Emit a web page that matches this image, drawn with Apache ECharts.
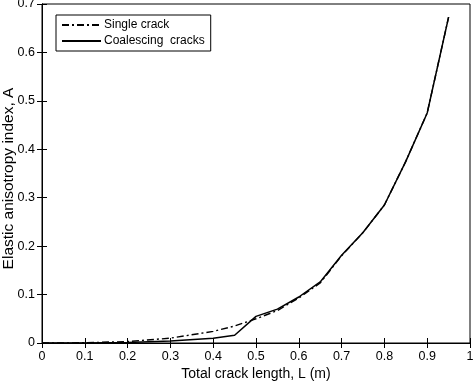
<!DOCTYPE html>
<html><head><meta charset="utf-8">
<script src="https://cdn.jsdelivr.net/npm/echarts@6/dist/echarts.min.js"></script>
<style>html,body{margin:0;padding:0;background:#fff}#c{width:474px;height:384px}</style>
</head><body><div id="c"></div>
<script>
var xSingle = [0, 0.1, 0.2, 0.3, 0.4, 0.45, 0.5, 0.55, 0.6, 0.65, 0.7, 0.75, 0.8, 0.85, 0.9, 0.95];
var ySingle = [0, 0.0005, 0.003, 0.01, 0.024, 0.035, 0.05, 0.067, 0.093, 0.124, 0.18, 0.228, 0.285, 0.375, 0.475, 0.673];
var xCoal = [0, 0.1, 0.2, 0.3, 0.4, 0.45, 0.5, 0.55, 0.6, 0.65, 0.7, 0.75, 0.8, 0.85, 0.9, 0.95];
var yCoal = [0, 0.0002, 0.001, 0.004, 0.01, 0.016, 0.055, 0.07, 0.095, 0.126, 0.181, 0.228, 0.285, 0.375, 0.475, 0.673];
var xTicks = ['0','0.1','0.2','0.3','0.4','0.5','0.6','0.7','0.8','0.9','1'];
var yTicks = ['0','0.1','0.2','0.3','0.4','0.5','0.6','0.7'];
var seriesNames = ['Single crack', 'Coalescing  cracks'];

function pairs(xs, ys){ return xs.map(function(x,i){ return [x, ys[i]]; }); }
var font = 'Liberation Sans, Arial, Helvetica, sans-serif';
var chart = echarts.init(document.getElementById('c'));
var lineAx = {show:true, lineStyle:{color:'#000', width:1}};
var tickIn = {show:true, inside:true, length:5, lineStyle:{color:'#000', width:1}};
chart.setOption({
  animation:false,
  backgroundColor:'#fff',
  grid:{left:42, right:4, top:4, bottom:41, show:true, borderColor:'#000', borderWidth:1,
        containLabel:false, outerBoundsMode:'none'},
  legend:{
    orient:'vertical', left:56, top:15, padding:[4,6,4,5], itemGap:4,
    itemWidth:39, itemHeight:12,
    borderColor:'#000', borderWidth:1, backgroundColor:'#fff',
    itemStyle:{opacity:0},
    textStyle:{fontFamily:font, fontSize:12, color:'#000', padding:[0,0,0,-2]},
    data:seriesNames
  },
  xAxis:[{
    type:'value', min:0, max:1, interval:0.1,
    axisLine:lineAx, axisTick:tickIn, splitLine:{show:false},
    axisLabel:{margin:7, fontFamily:font, fontSize:12.5, color:'#000',
      formatter:function(v){ return xTicks[Math.round(v*10)]; }},
    name:'Total crack length, L (m)', nameLocation:'middle', nameGap:24, nameMoveOverlap:false,
    nameTextStyle:{fontFamily:font, fontSize:14, color:'#000'}
  },{
    type:'value', min:0, max:1, interval:0.1, position:'top',
    axisLine:lineAx, axisTick:tickIn, axisLabel:{show:false}, splitLine:{show:false}
  }],
  yAxis:[{
    type:'value', min:0, max:0.7, interval:0.1,
    axisLine:lineAx, axisTick:tickIn, splitLine:{show:false},
    axisLabel:{margin:7, fontFamily:font, fontSize:12.5, color:'#000',
      formatter:function(v){ return yTicks[Math.round(v*10)]; }},
    name:'Elastic anisotropy index, A', nameLocation:'middle', nameGap:25, nameMoveOverlap:false,
    nameTextStyle:{fontFamily:font, fontSize:15.5, color:'#000', padding:[0,10,0,0]}
  },{
    type:'value', min:0, max:0.7, interval:0.1, position:'right',
    axisLine:lineAx, axisTick:tickIn, axisLabel:{show:false}, splitLine:{show:false}
  }],
  series:[{
    name:seriesNames[0], type:'line', showSymbol:false, symbol:'none',
    data:pairs(xSingle, ySingle),
    lineStyle:{color:'#000', width:1.4, type:[7,3,2,3]}, itemStyle:{color:'#000'}, z:3
  },{
    name:seriesNames[1], type:'line', showSymbol:false, symbol:'none',
    data:pairs(xCoal, yCoal),
    lineStyle:{color:'#000', width:1.5, type:'solid'}, itemStyle:{color:'#000'}, z:2
  }]
});
</script></body></html>
